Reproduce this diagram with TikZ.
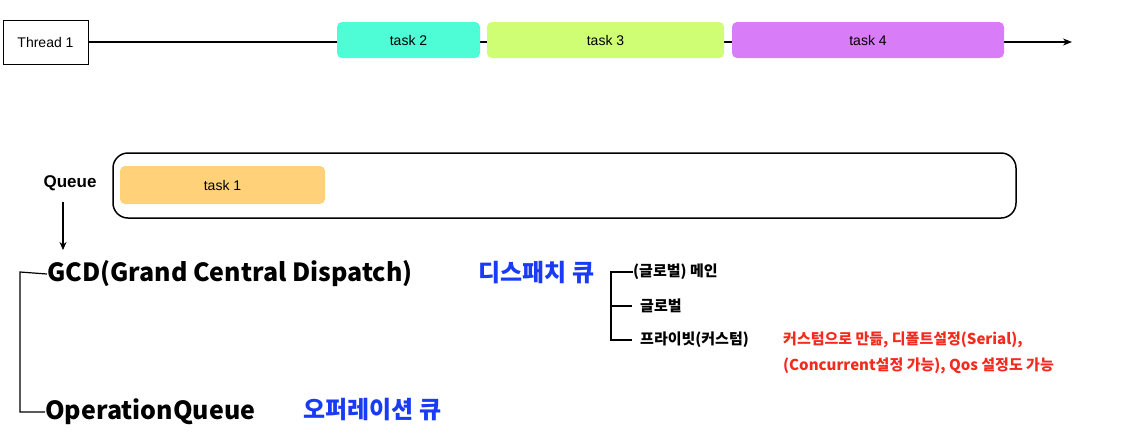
\documentclass[tikz,border=0pt]{standalone}
\usepackage{fontspec}
\setmainfont{Liberation Sans}
\newfontfamily\kr{Noto Sans CJK KR}
\usetikzlibrary{arrows.meta}
\definecolor{tTwo}{HTML}{4EFCD6}
\definecolor{tThree}{HTML}{CFFD73}
\definecolor{tFour}{HTML}{D87CF8}
\definecolor{tOne}{HTML}{FFD27A}
\definecolor{kblue}{HTML}{1A3BF5}
\definecolor{kred}{HTML}{F52A1E}
\begin{document}
\begin{tikzpicture}[x=1pt,y=-1pt,
  taskbox/.style={rounded corners=5pt,draw=none,inner sep=0pt,font=\fontsize{14}{16}\selectfont},
  big/.style={font=\kr\bfseries\fontsize{25}{28}\selectfont,anchor=west,inner sep=0pt},
  item/.style={font=\kr\bfseries\fontsize{15}{18}\selectfont,anchor=west,inner sep=0pt},
  redt/.style={font=\kr\bfseries\fontsize{15}{18}\selectfont,anchor=west,inner sep=0pt,text=kred},
  line/.style={line width=1.2pt}]
\useasboundingbox (0,0) rectangle (1126,445);
\node[draw,line width=1pt,minimum width=85pt,minimum height=44pt,inner sep=0pt,font=\fontsize{14}{16}\selectfont] (th) at (45.5,42) {Thread 1};
\coordinate (tend) at (1072,42);
\draw[line,-{Stealth[length=9pt,width=7pt]}] (th.east) -- (tend);
\node[taskbox,fill=tTwo,minimum width=143pt,minimum height=36pt] (t2) at (408.5,40) {task 2};
\node[taskbox,fill=tThree,minimum width=237pt,minimum height=36pt] (t3) at (605.5,40) {task 3};
\node[taskbox,fill=tFour,minimum width=272pt,minimum height=36pt] (t4) at (868,40) {task 4};
\node[font=\bfseries\fontsize{17}{20}\selectfont,inner sep=0pt] (q) at (70,183) {Queue};
\node[draw,line width=1.5pt,rounded corners=15pt,minimum width=903pt,minimum height=65pt,inner sep=0pt] (qb) at (564.5,185.5) {};
\node[taskbox,fill=tOne,minimum width=205pt,minimum height=38pt] (t1) at (222.5,185) {task 1};
\coordinate (qa) at (63,202);
\coordinate (qb2) at (63,250);
\draw[line,-{Stealth[length=8pt,width=7pt]}] (qa) -- (qb2);
\node[big] (gcd) at (47,274) {GCD(Grand Central Dispatch)};
\node[big] (opq) at (45,412) {OperationQueue};
\node[big,text=kblue,font=\kr\bfseries\fontsize{24}{28}\selectfont] (opk) at (303,410) {오퍼레이션 큐};
\node[big,text=kblue,font=\kr\bfseries\fontsize{24}{28}\selectfont] (dk) at (478,273) {디스패치 큐};
\coordinate (b1) at (20,272);
\coordinate (b2) at (20,412);
\draw[line] (gcd.west) -- (b1) -- (b2) -- (opq.west);
\node[item] (m) at (633,272) {(글로벌) 메인};
\node[item] (g) at (640,306) {글로벌};
\node[item] (p) at (640,340) {프라이빗(커스텀)};
\coordinate (v1) at (611,272);
\coordinate (v2) at (611,306);
\coordinate (v3) at (611,340);
\draw[line] (m.west) -- (v1) -- (v3) -- ([xshift=-8pt]p.west);
\draw[line] (v2) -- ([xshift=-8pt]g.west);
\node[redt] (r1) at (783,340) {커스텀으로 만듦, 디폴트설정(Serial),};
\node[redt] (r2) at (783,366) {(Concurrent설정 가능), Qos 설정도 가능};
\end{tikzpicture}
\end{document}
